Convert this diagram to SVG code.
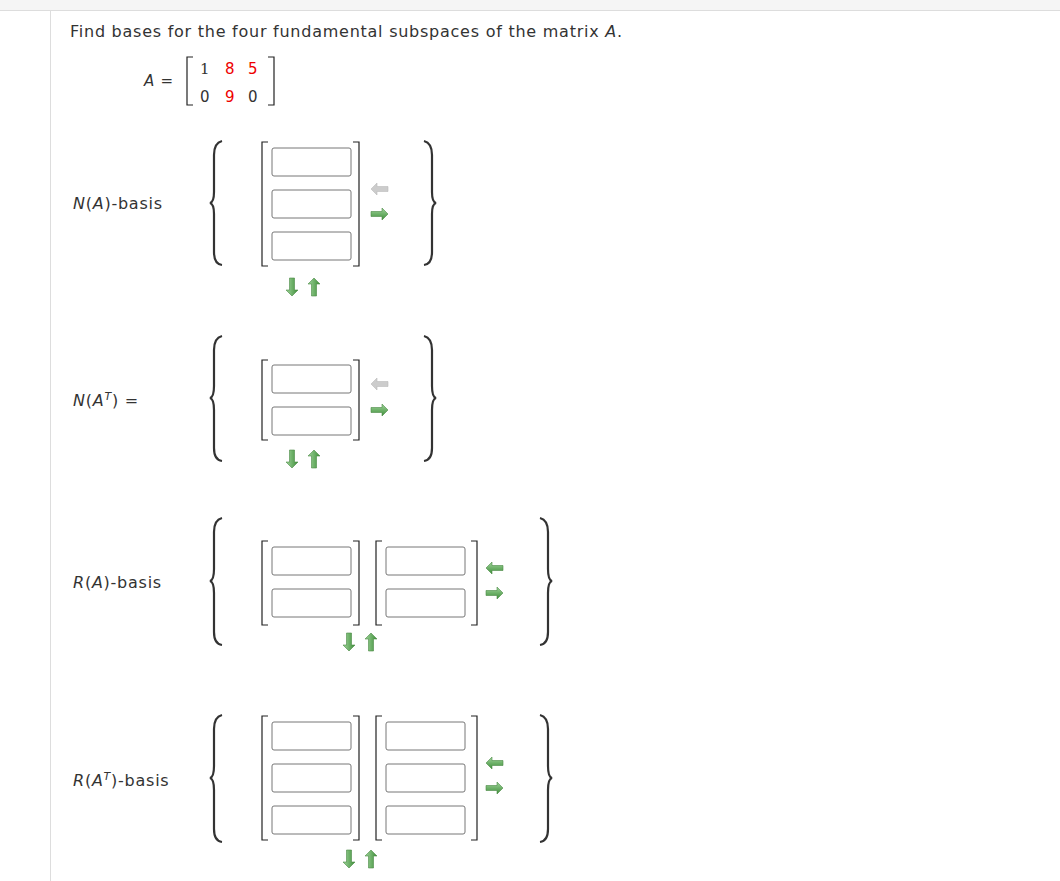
<svg xmlns="http://www.w3.org/2000/svg" xmlns:xlink="http://www.w3.org/1999/xlink" width="1060" height="881" viewBox="0 0 1060 881">
<style>
text{font-family:Verdana,"DejaVu Sans",sans-serif;font-size:16px;fill:#333;letter-spacing:0.75px}
.it{font-style:italic}
.box{fill:#fff;stroke:#777;stroke-width:1}
.br{fill:none;stroke:#222;stroke-width:1.2}
.brace{fill:none;stroke:#333;stroke-width:2.2}
</style>
<defs>
<linearGradient id="g" x1="0" y1="0" x2="0" y2="1"><stop offset="0" stop-color="#9fd49a"/><stop offset="1" stop-color="#3f8f3a"/></linearGradient>
<linearGradient id="gv" x1="0" y1="0" x2="1" y2="0"><stop offset="0" stop-color="#9fd49a"/><stop offset="1" stop-color="#3f8f3a"/></linearGradient>
<path id="ar" d="M0,-2.5 H11 V-6 L17,0 L11,6 V2.5 H0 Z" fill="url(#g)" stroke="#4a8a45" stroke-width="0.6"/>
<path id="al" d="M17,-2.5 H6 V-6 L0,0 L6,6 V2.5 H17 Z" fill="url(#g)" stroke="#4a8a45" stroke-width="0.6"/>
<path id="alg" d="M17,-2.5 H6 V-6 L0,0 L6,6 V2.5 H17 Z" fill="#ccc" stroke="#bbb" stroke-width="0.6"/>
<path id="ad" d="M-2.5,0 V12 H-6 L0,18 L6,12 H2.5 V0 Z" fill="url(#gv)" stroke="#4a8a45" stroke-width="0.6"/>
<path id="au" d="M-2.5,18 V6 H-6 L0,0 L6,6 H2.5 V18 Z" fill="url(#gv)" stroke="#4a8a45" stroke-width="0.6"/>
</defs>
<rect x="0" y="0" width="1060" height="10" fill="#f5f5f5"/>
<line x1="0" y1="10.5" x2="1060" y2="10.5" stroke="#ddd"/>
<line x1="50.5" y1="10" x2="50.5" y2="881" stroke="#ddd"/>
<g id="title"><text x="70" y="37">Find bases for the four fundamental subspaces of the matrix <tspan class="it">A</tspan>.</text></g>
<g id="matrixA">
<text x="144" y="86" style="font-size:15px"><tspan class="it">A</tspan> =</text>
<path class="br" d="M193,57 H187 V105 H193 M268,57 H274 V105 H268"/>
<text x="200" y="74" style="font-family:'DejaVu Serif',serif;font-size:15px">1</text>
<text x="225" y="74" style="font-size:15px;fill:#e00">8</text>
<text x="248" y="74" style="font-size:15px;fill:#e00">5</text>
<text x="200" y="102" style="font-size:15px">0</text>
<text x="225" y="102" style="font-size:15px;fill:#e00">9</text>
<text x="248" y="102" style="font-size:15px">0</text>
</g>
<g id="NA">
<text x="73" y="209"><tspan class="it">N</tspan>(<tspan class="it">A</tspan>)-basis</text>
<path class="brace" d="M222,141 Q214,143 214,155 V192 Q214,202 210,203 Q214,204 214,214 V252 Q214,264 222,265"/>
<path class="br" d="M268,142 H262 V266 H268 M353,142 H359 V266 H353"/>
<rect class="box" x="272" y="148" width="79" height="28" rx="2"/>
<rect class="box" x="272" y="190" width="79" height="28" rx="2"/>
<rect class="box" x="272" y="232" width="79" height="28" rx="2"/>
<use href="#alg" x="371" y="189"/><use href="#ar" x="371" y="214"/>
<use href="#ad" x="292" y="278"/><use href="#au" x="314" y="278"/>
<path class="brace" d="M424,141 Q432,143 432,155 V192 Q432,202 436,203 Q432,204 432,214 V252 Q432,264 424,265"/>
</g>
<g id="NAT">
<text x="73" y="406"><tspan class="it">N</tspan>(<tspan class="it">A</tspan><tspan class="it" dy="-6" style="font-size:11px">T</tspan><tspan dy="6">) =</tspan></text>
<path class="brace" d="M222,336 Q214,338 214,350 V386 Q214,397 210,398 Q214,399 214,410 V448 Q214,460 222,461"/>
<path class="br" d="M268,360 H262 V440 H268 M353,360 H359 V440 H353"/>
<rect class="box" x="272" y="365" width="79" height="28" rx="2"/>
<rect class="box" x="272" y="407" width="79" height="28" rx="2"/>
<use href="#alg" x="371" y="384"/><use href="#ar" x="371" y="410"/>
<use href="#ad" x="292" y="450"/><use href="#au" x="314" y="450"/>
<path class="brace" d="M424,336 Q432,338 432,350 V386 Q432,397 436,398 Q432,399 432,410 V448 Q432,460 424,461"/>
</g>
<g id="RA">
<text x="73" y="588"><tspan class="it">R</tspan>(<tspan class="it">A</tspan>)-basis</text>
<path class="brace" d="M222,518 Q214,520 214,532 V569 Q214,580 210,581 Q214,582 214,593 V632 Q214,644 222,645"/>
<path class="br" d="M268,541 H262 V625 H268 M353,541 H359 V625 H353"/>
<rect class="box" x="272" y="547" width="79" height="28" rx="2"/>
<rect class="box" x="272" y="589" width="79" height="28" rx="2"/>
<path class="br" d="M382,541 H376 V625 H382 M471,541 H477 V625 H471"/>
<rect class="box" x="386" y="547" width="79" height="28" rx="2"/>
<rect class="box" x="386" y="589" width="79" height="28" rx="2"/>
<use href="#al" x="486" y="568"/><use href="#ar" x="486" y="593"/>
<use href="#ad" x="349" y="633"/><use href="#au" x="371" y="633"/>
<path class="brace" d="M540,518 Q548,520 548,532 V569 Q548,580 552,581 Q548,582 548,593 V632 Q548,644 540,645"/>
</g>
<g id="RAT">
<text x="73" y="786"><tspan class="it">R</tspan>(<tspan class="it">A</tspan><tspan class="it" dy="-6" style="font-size:11px">T</tspan><tspan dy="6">)-basis</tspan></text>
<path class="brace" d="M222,715 Q214,717 214,729 V766 Q214,777 210,778 Q214,779 214,790 V829 Q214,841 222,842"/>
<path class="br" d="M268,716 H262 V840 H268 M353,716 H359 V840 H353"/>
<rect class="box" x="272" y="722" width="79" height="28" rx="2"/>
<rect class="box" x="272" y="764" width="79" height="28" rx="2"/>
<rect class="box" x="272" y="806" width="79" height="28" rx="2"/>
<path class="br" d="M382,716 H376 V840 H382 M471,716 H477 V840 H471"/>
<rect class="box" x="386" y="722" width="79" height="28" rx="2"/>
<rect class="box" x="386" y="764" width="79" height="28" rx="2"/>
<rect class="box" x="386" y="806" width="79" height="28" rx="2"/>
<use href="#al" x="486" y="763"/><use href="#ar" x="486" y="788"/>
<use href="#ad" x="349" y="850"/><use href="#au" x="371" y="850"/>
<path class="brace" d="M540,715 Q548,717 548,729 V766 Q548,777 552,778 Q548,779 548,790 V829 Q548,841 540,842"/>
</g>
<g id="connectors"></g>
</svg>
